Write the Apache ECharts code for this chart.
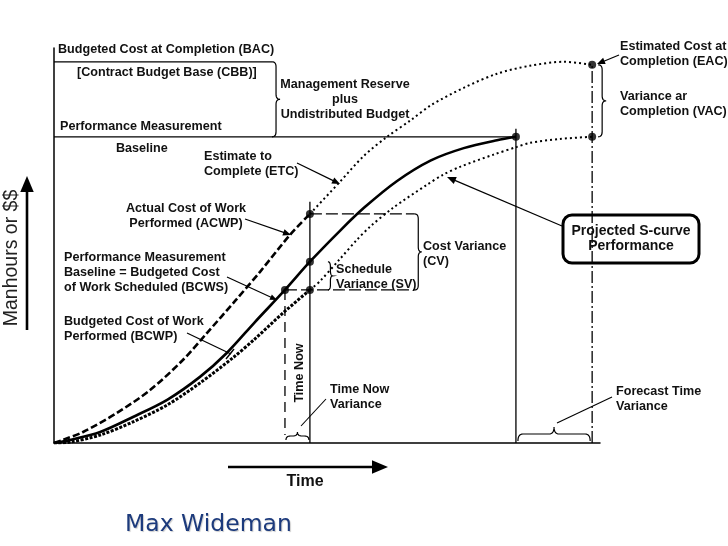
<!DOCTYPE html>
<html>
<head>
<meta charset="utf-8">
<script src="https://cdn.jsdelivr.net/npm/echarts@6/dist/echarts.min.js"></script>
<style>
html, body { margin: 0; background: #fff; }
#main { width: 728px; height: 546px; }
</style>
</head>
<body>
<div id="main"></div>
<script>
// time: 100 = planned completion ; cost: 100 = budget at completion (PMB)
var schedTime = 50, timeNow = 55.4, planEnd = 100, forecastEnd = 116.5;
var cbbLevel = 124.5;

// BCWS - performance measurement baseline
var bcwsX = [0, 3.5, 10, 17.1, 24.5, 31.6, 37.4, 43.5, 50, 55.4, 61.9, 67.1, 74.2, 81.6, 88.7, 95.9, 100];
var bcwsY = [0, 1.0, 3.6, 8.5, 14.1, 21.6, 29.4, 39.5, 50, 59.2, 69.3, 76.8, 85.5, 92.3, 96.3, 98.9, 100];
// ACWP up to time now
var acwpX = [0, 1.9, 6.3, 13.6, 20.8, 27.9, 33.1, 39.2, 44.6, 51.1, 55.4];
var acwpY = [0, 1.0, 3.6, 9.8, 17.3, 27.1, 35.9, 46.4, 55.9, 68.0, 74.8];
// ETC - from time now to EAC
var etcX = [55.4, 61.9, 67.1, 72.1, 77.3, 81.6, 88.7, 95.9, 103.0, 110.4, 116.5];
var etcY = [74.8, 85.3, 93.8, 100, 105.5, 110.3, 116.0, 120.6, 123.2, 124.5, 123.5];
// BCWP up to time now
var bcwpX = [0, 3.5, 10, 17.1, 24.5, 31.6, 38.7, 43.5, 49.6, 55.4];
var bcwpY = [0, 0.3, 2.6, 6.9, 12.4, 19.6, 27.8, 34.0, 42.5, 50];
// projected S-curve performance
var projX = [55.4, 57.6, 61.9, 65.6, 68.4, 73.4, 80.7, 84.2, 87.9, 95.0, 100.2, 103.0, 109.5, 116.5];
var projY = [50, 52.9, 60.1, 66.4, 70.6, 76.8, 84.3, 87.6, 90.2, 94.1, 96.7, 98.0, 99.3, 100];

function pairs(xs, ys) { return xs.map(function (x, i) { return [x, ys[i]]; }); }

var acwpNow = acwpY[acwpY.length - 1];
var bcwsNow = bcwsY[bcwsX.indexOf(timeNow)];
var bcwpNow = bcwpY[bcwpY.length - 1];
var eac = etcY[etcY.length - 1];

var cbbLine = [[0, cbbLevel], [47.2, cbbLevel]];
var pmbLine = [[0, 100], [planEnd, 100]];
var nowLine = [[timeNow, 0], [timeNow, 78.8]];
var endLine = [[planEnd, 0], [planEnd, 102.6]];
var eacLine = [[forecastEnd, 0], [forecastEnd, eac]];
var cvTop = [[timeNow, acwpNow], [78.1, acwpNow]];
var cvBot = [[schedTime, bcwpNow], [78.1, bcwpNow]];
var schedDrop = [[schedTime, bcwpNow], [schedTime, 2.6]];
var dots = [[timeNow, acwpNow], [timeNow, bcwsNow], [timeNow, bcwpNow], [schedTime, bcwpNow],
	[planEnd, 100], [forecastEnd, 100], [forecastEnd, eac]];

var myChart = echarts.init(document.getElementById('main'));

function curve(data, type, width) {
	return {
		type: 'line', data: data, showSymbol: false, symbol: 'none', smooth: 0.3,
		lineStyle: { color: '#000', width: width, type: type }, silent: true, z: 3
	};
}
function guide(data, type, width) {
	return {
		type: 'line', data: data, showSymbol: false, symbol: 'none',
		lineStyle: { color: '#000', width: width, type: type }, silent: true, z: 2
	};
}

var option = {
	animation: false,
	backgroundColor: '#fff',
	grid: { left: 54, right: 128, top: 48, bottom: 103 },
	xAxis: {
		type: 'value', min: 0, max: 118.2,
		axisLine: { show: true, lineStyle: { color: '#000', width: 1.5 } },
		axisTick: { show: false }, axisLabel: { show: false }, splitLine: { show: false }
	},
	yAxis: {
		type: 'value', min: 0, max: 129,
		axisLine: { show: true, lineStyle: { color: '#000', width: 1.5 } },
		axisTick: { show: false }, axisLabel: { show: false }, splitLine: { show: false }
	},
	series: [
		guide(cbbLine, 'solid', 1.3),
		guide(pmbLine, 'solid', 1.3),
		guide(nowLine, 'solid', 1.3),
		guide(endLine, 'solid', 1.3),
		guide(eacLine, [12, 3, 2, 3], 1.3),
		guide(cvTop, [12, 4], 1.3),
		guide(cvBot, [12, 4], 1.3),
		guide(schedDrop, [10, 6], 1.3),
		curve(pairs(bcwsX, bcwsY), 'solid', 2.6),
		curve(pairs(acwpX, acwpY), [7, 3], 2.6),
		curve(pairs(bcwpX, bcwpY), [3, 1.5], 3),
		curve(pairs(etcX, etcY), [2, 3], 2),
		curve(pairs(projX, projY), [2, 3], 2),
		{
			type: 'scatter', data: dots, symbolSize: 8, silent: true, z: 5,
			itemStyle: { color: '#000' }
		}
	]
};
myChart.setOption(option);

function px(p) { return myChart.convertToPixel({ gridIndex: 0 }, p); }

var FONT = 'bold 12.6px "Liberation Sans", Arial, sans-serif';
var g = [];

function label(x, y, lines, align, font) {
	lines.forEach(function (t, i) {
		g.push({
			type: 'text', x: x, y: y + i * 15, z: 10,
			style: { text: t, font: font || FONT, fill: '#111', align: align || 'left', verticalAlign: 'middle' }
		});
	});
}
function seg(x1, y1, x2, y2, w) {
	g.push({ type: 'line', z: 10, shape: { x1: x1, y1: y1, x2: x2, y2: y2 }, style: { stroke: '#000', lineWidth: w || 1.2 } });
}
function arrow(x1, y1, x2, y2, size, w) {
	var dx = x2 - x1, dy = y2 - y1, l = Math.sqrt(dx * dx + dy * dy);
	var ux = dx / l, uy = dy / l;
	var bx = x2 - ux * size, by = y2 - uy * size, hw = size * 0.42;
	seg(x1, y1, x2 - ux * size * 0.6, y2 - uy * size * 0.6, w);
	g.push({
		type: 'polygon', z: 10,
		shape: { points: [[x2, y2], [bx - uy * hw, by + ux * hw], [bx + uy * hw, by - ux * hw]] },
		style: { fill: '#000' }
	});
}
// quadratic pieces sampled into a polyline
function quadPts(pts, a, c, b) {
	for (var i = 1; i <= 8; i++) {
		var t = i / 8, s = 1 - t;
		pts.push([s * s * a[0] + 2 * s * t * c[0] + t * t * b[0], s * s * a[1] + 2 * s * t * c[1] + t * t * b[1]]);
	}
}
function brace(pts) {
	g.push({ type: 'polyline', z: 10, shape: { points: pts }, style: { fill: null, stroke: '#000', lineWidth: 1.2 } });
}
// vertical brace pointing right
function vBrace(x, y1, y2, d) {
	var m = (y1 + y2) / 2, h = d / 2, r = Math.min(5, (y2 - y1) / 5);
	var pts = [[x, y1]];
	quadPts(pts, [x, y1], [x + h, y1], [x + h, y1 + r]);
	pts.push([x + h, m - r]);
	quadPts(pts, [x + h, m - r], [x + h, m], [x + d, m]);
	quadPts(pts, [x + d, m], [x + h, m], [x + h, m + r]);
	pts.push([x + h, y2 - r]);
	quadPts(pts, [x + h, y2 - r], [x + h, y2], [x, y2]);
	brace(pts);
}
// horizontal brace pointing up
function hBrace(x1, x2, y, d) {
	var m = (x1 + x2) / 2, h = d / 2, r = Math.min(5, (x2 - x1) / 5);
	var pts = [[x1, y]];
	quadPts(pts, [x1, y], [x1, y - h], [x1 + r, y - h]);
	pts.push([m - r, y - h]);
	quadPts(pts, [m - r, y - h], [m, y - h], [m, y - d]);
	quadPts(pts, [m, y - d], [m, y - h], [m + r, y - h]);
	pts.push([x2 - r, y - h]);
	quadPts(pts, [x2 - r, y - h], [x2, y - h], [x2, y]);
	brace(pts);
}

// braces tied to the data
var cbbEnd = px(cbbLine[1]), pmbY = px([0, 100])[1];
vBrace(cbbEnd[0], cbbEnd[1], pmbY, 8);
var eacP = px([forecastEnd, eac]);
vBrace(eacP[0] + 6, eacP[1], pmbY, 8);
var cvA = px(cvTop[1]), cvB = px(cvBot[1]);
vBrace(cvA[0], cvA[1], cvB[1], 7);
var svA = px([timeNow, bcwsNow]), svB = px([timeNow, bcwpNow]);
vBrace(svA[0] + 18, svA[1], svB[1], 5);
var tA = px([schedTime, 0]), tB = px([timeNow, 0]);
hBrace(tA[0] + 1, tB[0] - 1, tA[1] - 3, 8);
var fA = px([planEnd, 0]), fB = px([forecastEnd, 0]);
hBrace(fA[0] + 2, fB[0] - 2, fA[1] - 2, 14);

// texts
label(58, 50, ['Budgeted Cost at Completion (BAC)']);
label(77, 73, ['[Contract Budget Base (CBB)]']);
label(345, 85, ['Management Reserve', 'plus', 'Undistributed Budget'], 'center');
label(60, 127, ['Performance Measurement']);
label(116, 149, ['Baseline']);
label(204, 157, ['Estimate to', 'Complete (ETC)']);
label(186, 209, ['Actual Cost of Work', 'Performed (ACWP)'], 'center');
label(64, 258, ['Performance Measurement', 'Baseline = Budgeted Cost', 'of Work Scheduled (BCWS)']);
label(64, 322, ['Budgeted Cost of Work', 'Performed (BCWP)']);
label(336, 270, ['Schedule', 'Variance (SV)']);
label(423, 247, ['Cost Variance', '(CV)']);
label(330, 390, ['Time Now', 'Variance']);
label(616, 392, ['Forecast Time', 'Variance']);
label(620, 47, ['Estimated Cost at', 'Completion (EAC)']);
label(620, 97, ['Variance ar', 'Completion (VAC)']);
label(631, 231, ['Projected S-curve', 'Performance'], 'center', 'bold 14px "Liberation Sans", Arial, sans-serif');
g.push({
	type: 'text', x: 300, y: 373, rotation: Math.PI / 2, z: 10,
	style: { text: 'Time Now', font: FONT, fill: '#111', align: 'center', verticalAlign: 'middle' }
});
g.push({
	type: 'rect', z: 10, shape: { x: 563, y: 215, width: 136, height: 48, r: 9 },
	style: { fill: null, stroke: '#000', lineWidth: 3 }
});
g.push({
	type: 'text', x: 12, y: 258, rotation: Math.PI / 2, z: 10,
	style: { text: 'Manhours or $$', font: '19.5px "Liberation Sans", Arial, sans-serif', fill: '#222', align: 'center', verticalAlign: 'middle' }
});
label(305, 482, ['Time'], 'center', 'bold 16px "Liberation Sans", Arial, sans-serif');
g.push({
	type: 'text', x: 125, y: 525, z: 10,
	style: {
		text: 'Max Wideman', font: '23.5px "DejaVu Sans", Verdana, sans-serif', fill: '#1c3a7c',
		align: 'left', verticalAlign: 'middle', textShadowColor: 'rgba(0,0,0,0.2)', textShadowOffsetX: 1, textShadowOffsetY: 1, textShadowBlur: 1
	}
});

// leader lines and arrows
arrow(297, 163, 340, 184, 8, 1.2);
arrow(245, 219, 291, 235, 8, 1.2);
arrow(227, 277, 277, 300, 7, 1.2);
seg(187, 333, 231, 354, 1.2);
seg(226, 359, 234, 349, 1.4);
arrow(562, 226, 447, 177, 9, 1.2);
arrow(619, 55, 597, 64, 8, 1.2);
seg(326, 399, 301, 426, 1.1);
seg(612, 397, 557, 423, 1.1);
arrow(228, 467, 388, 467, 16, 2.6);
arrow(27, 330, 27, 176, 16, 2.6);

myChart.setOption({ graphic: g });
</script>
</body>
</html>
